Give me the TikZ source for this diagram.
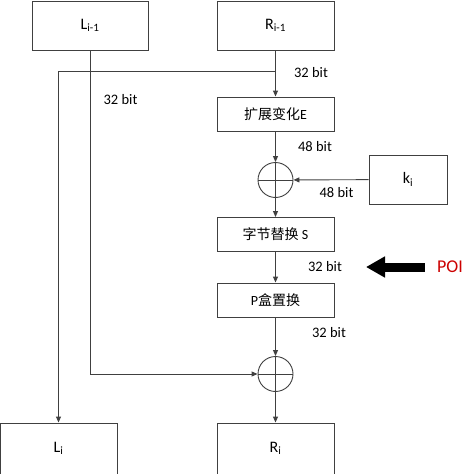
\documentclass[tikz,border=0pt]{standalone}
\usepackage{fontspec}
\setmainfont{Carlito}
\newfontfamily\cjk{Noto Sans CJK SC}
\usetikzlibrary{arrows.meta}

\definecolor{linegray}{HTML}{404040}
\tikzset{
  blk/.style={draw=linegray, line width=0.9pt, minimum width=117pt, minimum height=34pt,
    inner sep=0pt, font=\fontsize{14}{14}\selectfont},
  regbox/.style={blk, minimum height=49pt, font=\fontsize{16}{16}\selectfont},
  xorop/.style={draw=linegray, line width=0.9pt, circle, minimum size=35pt, inner sep=0pt,
    path picture={\draw[linegray, line width=0.9pt]
      (path picture bounding box.north) -- (path picture bounding box.south)
      (path picture bounding box.west) -- (path picture bounding box.east);}},
  bits/.style={font=\fontsize{14.5}{14.5}\selectfont, inner sep=0pt},
  flow/.style={draw=linegray, line width=0.9pt, -{Triangle[length=6pt,width=5pt]}},
  fat/.style={draw=black, line width=9pt, -{Triangle[length=19pt,width=20pt]}}
}

\begin{document}
\begin{tikzpicture}[x=1pt,y=-1pt]
  \useasboundingbox (0,0) rectangle (474,474);

  % registers
  \node[regbox, minimum width=116pt] (Lprev) at (90,25.5) {L\textsubscript{i-1}};
  \node[regbox] (Rprev) at (275.5,25.5) {R\textsubscript{i-1}};
  \node[regbox, minimum height=51pt] (Li) at (58.5,448.5) {L\textsubscript{i}};
  \node[regbox, minimum height=51pt] (Ri) at (275.5,448.5) {R\textsubscript{i}};

  % round function
  \node[blk] (E) at (275.5,114) {{\cjk 扩展变化}E};
  \node[xorop] (x1) at (275.5,180) {};
  \node[regbox, minimum width=78pt] (k) at (408,179.5) {k\textsubscript{i}};
  \node[blk] (S) at (275.5,234.5) {{\cjk 字节替换} S};
  \node[blk] (P) at (275.5,300) {P{\cjk 盒置换}};
  \node[xorop] (x2) at (275.5,374) {};

  % bit widths
  \node[bits] (b1) at (311,73) {32 bit};
  \node[bits] (b2) at (120.5,100) {32 bit};
  \node[bits] (b3) at (315,147) {48 bit};
  \node[bits] (b4) at (336.5,193) {48 bit};
  \node[bits] (b5) at (325,267) {32 bit};
  \node[bits] (b6) at (329,333) {32 bit};

  % connectors
  \coordinate (split) at (275.5,71);
  \coordinate (corner) at (Li.north |- split);
  \draw[flow] (Rprev) -- (E);
  \draw[flow] (split) -- (corner) -- (Li);
  \draw[flow] (Lprev.south) |- (x2.west);
  \draw[flow] (E) -- (x1);
  \draw[flow] (k) -- (x1);
  \draw[flow] (x1) -- (S);
  \draw[flow] (S) -- (P);
  \draw[flow] (P) -- (x2);
  \draw[flow] (x2) -- (Ri);

  % point of interest
  \node[text={rgb,255:red,204;green,0;blue,0}, font=\fontsize{18}{18}\selectfont, inner sep=0pt]
    (poi) at (450,267) {POI};
  \coordinate (poitip) at (366,267);
  \draw[fat] ([xshift=-12pt]poi.west) -- (poitip);
\end{tikzpicture}
\end{document}
